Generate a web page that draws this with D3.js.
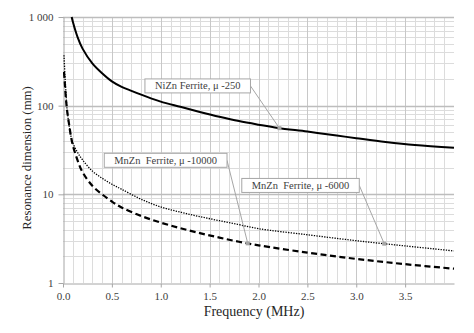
<!DOCTYPE html>
<html>
<head>
<meta charset="utf-8">
<script src="https://cdn.jsdelivr.net/npm/d3@7"></script>
<style>
  html, body { margin: 0; padding: 0; background: #fff; }
  svg { display: block; }
  text { font-family: "Liberation Serif", "DejaVu Serif", serif; }
</style>
</head>
<body>
<svg id="chart" width="474" height="333"></svg>
<script>
// ---- data ----
const freqNiZn = [0.089, 0.1, 0.15, 0.2, 0.3, 0.4, 0.5, 0.6, 0.7, 0.8, 0.9, 1.0, 1.2, 1.4, 1.6, 1.8, 2.0, 2.2, 2.5, 2.8, 3.0, 3.3, 3.6, 4.0];
const dimNiZn250 = [1000, 890, 590, 440, 300, 232, 188, 163, 147, 133, 121, 111, 97, 85, 75, 67, 61, 56, 51, 46, 43, 39, 36, 33.5];

const freqMnZn = [0.01, 0.02, 0.03, 0.04, 0.06, 0.08, 0.1, 0.15, 0.2, 0.3, 0.4, 0.5, 0.6, 0.8, 1.0, 1.2, 1.4, 1.6, 1.8, 2.0, 2.5, 3.0, 3.5, 4.0];
const dimMnZn6000 = [370, 220, 140, 95, 62, 46, 38, 29.5, 24.5, 18.3, 15.2, 13.0, 11.4, 8.8, 7.2, 6.3, 5.6, 5.05, 4.55, 4.1, 3.5, 3.0, 2.62, 2.3];
const dimMnZn10000 = [240, 170, 120, 92, 64, 46, 36, 24, 17.8, 12.5, 10.0, 8.3, 7.1, 5.7, 4.8, 4.15, 3.65, 3.25, 2.92, 2.66, 2.2, 1.87, 1.63, 1.45];

const xTicks = [0, 0.5, 1.0, 1.5, 2.0, 2.5, 3.0, 3.5];
const yTicks = [1, 10, 100, 1000];
const yTickLabels = ["1", "10", "100", "1 000"];
const xTitle = "Frequency (MHz)";
const yTitle = "Resonance dimension (mm)";

const seriesNames = ["NiZn Ferrite, \u03bc -250", "MnZn  Ferrite, \u03bc -10000", "MnZn  Ferrite, \u03bc -6000"];
// callout: anchor frequency on the series, box centre in data units
const calloutAnchorFreq = [2.214, 1.89, 3.286];
const calloutBoxFreq = [1.378, 1.05, 2.43];
const calloutBoxDim = [167, 24.2, 12.6];

// ---- layout ----
const W = 474, H = 333;
const svg = d3.select("#chart");
svg.append("rect").attr("width", W).attr("height", H).attr("fill", "#fff");

const x = d3.scaleLinear().domain([0, 4]).range([63, 454]);
const y = d3.scaleLog().domain([1, 1000]).range([283, 17]);

// grid
const g = svg.append("g");
const minorX = d3.range(1, 40).map(i => i / 10).filter(v => Math.abs(v * 2 - Math.round(v * 2)) > 1e-6);
const majorX = xTicks.filter(v => v > 0);
const minorY = [];
[1, 10, 100].forEach(d => { for (let k = 2; k <= 9; k++) minorY.push(d * k); });
const majorY = [10, 100, 1000];

g.selectAll(".vminor").data(minorX).join("line")
  .attr("x1", d => Math.round(x(d)) + 0.5).attr("x2", d => Math.round(x(d)) + 0.5)
  .attr("y1", y(1000)).attr("y2", y(1))
  .attr("stroke", "#dcdcdc").attr("stroke-width", 1);
g.selectAll(".hminor").data(minorY).join("line")
  .attr("x1", x(0)).attr("x2", x(4))
  .attr("y1", d => Math.round(y(d)) + 0.5).attr("y2", d => Math.round(y(d)) + 0.5)
  .attr("stroke", "#dcdcdc").attr("stroke-width", 1);
g.selectAll(".vmajor").data(majorX).join("line")
  .attr("x1", d => Math.round(x(d)) + 0.5).attr("x2", d => Math.round(x(d)) + 0.5)
  .attr("y1", y(1000)).attr("y2", y(1))
  .attr("stroke", "#c8c8c8").attr("stroke-width", 1);
g.selectAll(".hmajor").data(majorY).join("line")
  .attr("x1", x(0)).attr("x2", x(4))
  .attr("y1", d => Math.round(y(d)) + 0.5).attr("y2", d => Math.round(y(d)) + 0.5)
  .attr("stroke", "#bdbdbd").attr("stroke-width", 1.3);

// axes
const xAxis = d3.axisBottom(x).tickValues(xTicks).tickFormat(d3.format(".1f")).tickSize(4).tickSizeOuter(0);
const yAxis = d3.axisLeft(y).tickValues(yTicks).tickFormat((d, i) => yTickLabels[i]).tickSize(5).tickSizeOuter(0);

const gx = svg.append("g").attr("transform", `translate(0,${Math.round(y(1)) + 0.5})`).call(xAxis);
const gy = svg.append("g").attr("transform", `translate(${Math.round(x(0)) + 0.5},0)`).call(yAxis);
[gx, gy].forEach(a => {
  a.select(".domain").attr("stroke", "#a6a6a6");
  a.selectAll(".tick line").attr("stroke", "#a6a6a6");
  a.selectAll(".tick text").attr("fill", "#404040").attr("font-size", 11)
    .attr("font-family", '"Liberation Serif", serif');
});
gx.selectAll(".tick text").attr("dy", "0.85em");
gy.selectAll(".tick text").attr("dx", "-2");

// titles
svg.append("text").attr("x", 254).attr("y", 316).attr("text-anchor", "middle")
  .attr("font-size", 14).attr("fill", "#262626").text(xTitle);
svg.append("text").attr("transform", `translate(31,158) rotate(-90)`)
  .attr("text-anchor", "middle").attr("font-size", 12.8).attr("fill", "#262626").text(yTitle);

// lines
svg.append("clipPath").attr("id", "plotclip").append("rect")
  .attr("x", x(0)).attr("y", y(1000) - 1).attr("width", x(4) - x(0) + 1).attr("height", y(1) - y(1000) + 1);

const line = d3.line().x(d => x(d[0])).y(d => y(d[1])).curve(d3.curveCatmullRom.alpha(0.5));
const series = [
  {f: freqNiZn, v: dimNiZn250, dash: null, w: 2.0},
  {f: freqMnZn, v: dimMnZn10000, dash: "6,3.5", w: 2.2},
  {f: freqMnZn, v: dimMnZn6000, dash: "1.3,1.3", w: 1.3}
];
const lg = svg.append("g").attr("clip-path", "url(#plotclip)");
series.forEach(s => {
  const pts = s.f.map((f, i) => [f, s.v[i]]);
  lg.append("path").datum(pts).attr("d", line)
    .attr("fill", "none").attr("stroke", "#000")
    .attr("stroke-width", s.w)
    .attr("stroke-dasharray", s.dash);
});

// callouts
function interpLog(fArr, vArr, f) {
  for (let i = 0; i < fArr.length - 1; i++) {
    if (f >= fArr[i] && f <= fArr[i + 1]) {
      const t = (f - fArr[i]) / (fArr[i + 1] - fArr[i]);
      return Math.exp(Math.log(vArr[i]) * (1 - t) + Math.log(vArr[i + 1]) * t);
    }
  }
  return vArr[vArr.length - 1];
}
const cg = svg.append("g");
series.forEach((s, i) => {
  const ax = x(calloutAnchorFreq[i]);
  const ay = y(interpLog(s.f, s.v, calloutAnchorFreq[i]));
  const cx = x(calloutBoxFreq[i]);
  const cy = y(calloutBoxDim[i]);
  const t = cg.append("text").attr("x", cx).attr("y", cy + 3.5).attr("text-anchor", "middle")
    .attr("font-size", 10.5).attr("fill", "#404040").style("white-space", "pre").text(seriesNames[i]);
  const tw = t.node().getComputedTextLength();
  const bw = tw + 20, bh = 14;
  const bx = cx - bw / 2, by = cy - bh / 2;
  cg.insert("line", "text")
    .attr("x1", bx + bw).attr("y1", cy).attr("x2", ax).attr("y2", ay)
    .attr("stroke", "#a6a6a6").attr("stroke-width", 1);
  cg.insert("rect", "text").attr("x", bx).attr("y", by).attr("width", bw).attr("height", bh)
    .attr("fill", "#fff").attr("stroke", "#a6a6a6").attr("stroke-width", 1);
  cg.append("rect").attr("x", ax - 2).attr("y", ay - 2).attr("width", 4).attr("height", 4)
    .attr("fill", "#a6a6a6");
});
</script>
</body>
</html>
